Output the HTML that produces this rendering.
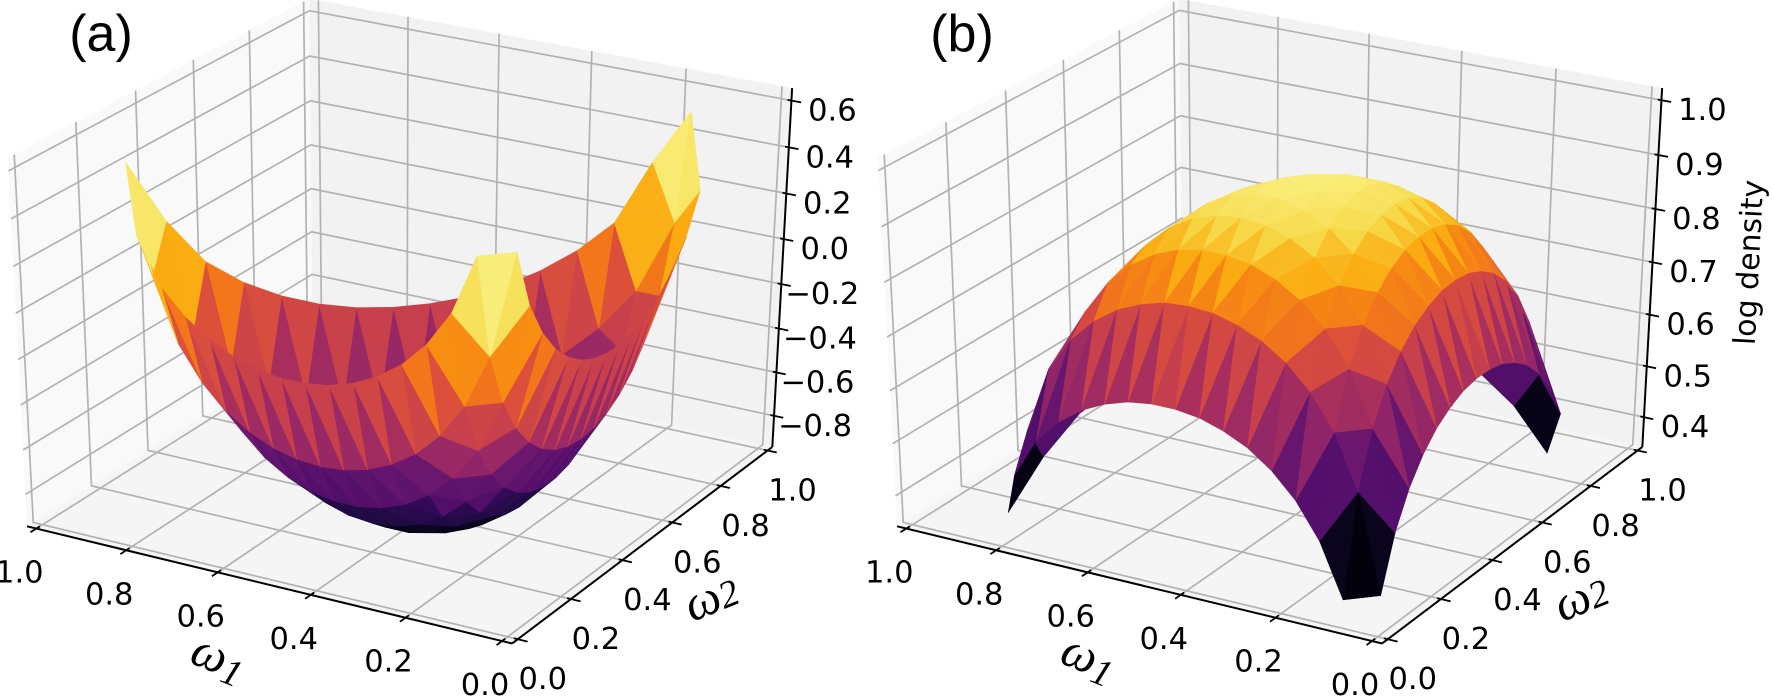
<!DOCTYPE html>
<html><head><meta charset="utf-8"><title>Log density surfaces</title>
<style>html,body{margin:0;padding:0;background:#fff}svg{display:block}text{fill:#000}</style></head>
<body>
<svg id="fig" width="1772" height="697" viewBox="0 0 1772 697" xmlns="http://www.w3.org/2000/svg"></svg>
<script>
const omegaStep = 0.05;
const xTicks = [0, 0.2, 0.4, 0.6, 0.8, 1.0];
const yTicks = [0, 0.2, 0.4, 0.6, 0.8, 1.0];
const zTicksA = [-0.8, -0.6, -0.4, -0.2, 0, 0.2, 0.4, 0.6];
const zTicksB = [0.4, 0.5, 0.6, 0.7, 0.8, 0.9, 1.0];
const zLimitsA = [-0.945, 0.653];
const zLimitsB = [0.341, 1.022];
const logDensityA = [
[null,.58,.325,.173,.068,-.005,-.056,-.088,-.102,-.102,-.088,-.056,-.005,.068,.173,.38,null],
[.58,.129,-.102,-.251,-.353,-.422,-.468,-.494,-.502,-.494,-.468,-.422,-.353,-.251,-.102,.17,.62],
[.325,-.102,-.332,-.477,-.574,-.639,-.679,-.698,-.698,-.679,-.639,-.574,-.477,-.332,-.102,.36],
[.173,-.251,-.477,-.619,-.711,-.770,-.803,-.814,-.803,-.770,-.711,-.619,-.477,-.251,.173],
[.068,-.353,-.574,-.711,-.798,-.850,-.875,-.875,-.850,-.798,-.711,-.574,-.353,.068],
[-.005,-.422,-.639,-.770,-.850,-.894,-.908,-.894,-.850,-.770,-.639,-.422,-.005],
[-.056,-.468,-.679,-.803,-.875,-.908,-.908,-.875,-.803,-.679,-.468,-.056],
[-.088,-.494,-.698,-.814,-.875,-.894,-.875,-.814,-.698,-.494,-.088],
[-.102,-.502,-.698,-.803,-.850,-.850,-.803,-.698,-.502,-.102],
[-.102,-.494,-.679,-.770,-.798,-.770,-.679,-.494,-.102],
[-.088,-.468,-.639,-.711,-.711,-.639,-.468,-.088],
[-.056,-.422,-.574,-.619,-.574,-.422,-.056],
[-.005,-.353,-.477,-.477,-.353,-.005],
[.068,-.251,-.332,-.251,.068],
[.173,-.102,-.102,.173],
[.34,.18,.42],
[null,.62]
];
const logDensityB = [
[null,.370,.470,.535,.580,.612,.633,.647,.653,.653,.647,.633,.612,.580,.535,.46,null],
[.370,.554,.653,.717,.760,.790,.809,.821,.824,.821,.809,.790,.760,.717,.653,.53,.36],
[.470,.653,.751,.813,.855,.883,.900,.908,.908,.900,.883,.855,.813,.751,.653,.46],
[.535,.717,.813,.874,.914,.939,.953,.958,.953,.939,.914,.874,.813,.717,.535],
[.580,.760,.855,.914,.951,.973,.984,.984,.973,.951,.914,.855,.760,.580],
[.612,.790,.883,.939,.973,.992,.998,.992,.973,.939,.883,.790,.612],
[.633,.809,.900,.953,.984,.998,.998,.984,.953,.900,.809,.633],
[.647,.821,.908,.958,.984,.992,.984,.958,.908,.821,.647],
[.653,.824,.908,.953,.973,.973,.953,.908,.824,.653],
[.653,.821,.900,.939,.951,.939,.900,.821,.653],
[.647,.809,.883,.914,.914,.883,.809,.647],
[.633,.790,.855,.874,.855,.790,.633],
[.612,.760,.813,.813,.760,.612],
[.580,.717,.751,.717,.580],
[.535,.653,.653,.535],
[.468,.534,.464],
[null,.364]
];
const infernoStops = ['#000004','#160b39','#420a68','#6a176e','#932667','#bc3754','#dd513a','#f37819','#fca50a','#f6d746','#fcffa4'];
const colorBands = [0.03,0.13,0.27,0.42,0.56,0.72,0.84,0.91];

const NS = 'http://www.w3.org/2000/svg';
const fig = document.getElementById('fig');
const M = 1/48;
const LO = -M, HI = 1 + M;
const cameraAnchors = [
  [1,LO,0,34,528],[0,LO,0,501,641],[LO,1,0,768,450],[LO,0.2,0,573,599],
  [LO,HI,0.9668,791,100],[LO,HI,0.0907,773,417],
  [HI,LO,0.9668,8,172],[HI,LO,0.0907,27.5,494],
  [HI,HI,0.9668,310,10],[HI,HI,0.2159,312,275]
];
function solveCamera(anch){
  const n = 11, A = [], b = [];
  for (let i=0;i<n;i++){A.push(new Array(n).fill(0));b.push(0);}
  function add(r,v){for(let i=0;i<n;i++){for(let j=0;j<n;j++)A[i][j]+=r[i]*r[j];b[i]+=r[i]*v;}}
  anch.forEach(p=>{
    const [X,Y,Z,u,v]=p;
    add([X,Y,Z,1,0,0,0,0,-u*X,-u*Y,-u*Z],u);
    add([0,0,0,0,X,Y,Z,1,-v*X,-v*Y,-v*Z],v);
  });
  for(let c=0;c<n;c++){
    let best=c;for(let r=c+1;r<n;r++)if(Math.abs(A[r][c])>Math.abs(A[best][c]))best=r;
    [A[c],A[best]]=[A[best],A[c]];[b[c],b[best]]=[b[best],b[c]];
    for(let r=0;r<n;r++){if(r===c)continue;const f=A[r][c]/A[c][c];
      if(f===0)continue;for(let k=c;k<n;k++)A[r][k]-=f*A[c][k];b[r]-=f*b[c];}
  }
  return b.map((v,i)=>v/A[i][i]);
}
const cam = solveCamera(cameraAnchors);
function project(x,y,n,dx){
  const w = cam[8]*x+cam[9]*y+cam[10]*n+1;
  return [(cam[0]*x+cam[1]*y+cam[2]*n+cam[3])/w+dx,(cam[4]*x+cam[5]*y+cam[6]*n+cam[7])/w];
}
function hex(c){return [1,3,5].map(i=>parseInt(c.substr(i,2),16));}
function inferno(t){
  t=Math.max(0,Math.min(1,t));
  let near=colorBands[0];
  colorBands.forEach(b=>{if(Math.abs(b-t)<Math.abs(near-t))near=b;});
  t=(0.5*t+0.5*near)*(infernoStops.length-1);
  const i=Math.min(infernoStops.length-2,Math.floor(t)),f=t-i;
  const a=hex(infernoStops[i]),b=hex(infernoStops[i+1]);
  return 'rgb('+a.map((v,j)=>Math.round(v+(b[j]-v)*f)).join(',')+')';
}
function el(tag,attrs,parent){
  const e=document.createElementNS(NS,tag);
  for(const k in attrs)e.setAttribute(k,attrs[k]);
  (parent||fig).appendChild(e);
  return e;
}
function pts(list){return list.map(p=>p[0].toFixed(2)+','+p[1].toFixed(2)).join(' ');}
function fmt(v){return (v<0?'\u2212':'')+Math.abs(v).toFixed(1);}

function drawPanel(prefix,dx,zRows,zLim,zTicks,title,titleX,zLabel){
  const nz=z=>(z-zLim[0])/(zLim[1]-zLim[0]);
  const P=(x,y,z)=>project(x,y,nz(z),dx);
  const g=el('g',{});
  
  
  const Z0=zLim[0],Z1=zLim[1];

  const paneX=el('polygon',{points:pts([P(HI,LO,Z0),P(HI,HI,Z0),P(HI,HI,Z1),P(HI,LO,Z1)]),fill:'#f9f9f9'},g);
  
  
  const paneY=el('polygon',{points:pts([P(HI,HI,Z0),P(LO,HI,Z0),P(LO,HI,Z1),P(HI,HI,Z1)]),fill:'#f2f2f2'},g);
  
  
  const paneZ=el('polygon',{points:pts([P(LO,LO,Z0),P(HI,LO,Z0),P(HI,HI,Z0),P(LO,HI,Z0)]),fill:'#f5f5f5'},g);
  
  

  const grid={fill:'none',stroke:'#b2b2b2','stroke-width':1.7};
  xTicks.forEach(t=>{
    const l=el('polyline',Object.assign({points:pts([P(t,LO,Z0),P(t,HI,Z0),P(t,HI,Z1)])},grid),g);
    
    
  });
  yTicks.forEach(t=>{
    const l=el('polyline',Object.assign({points:pts([P(LO,t,Z0),P(HI,t,Z0),P(HI,t,Z1)])},grid),g);
    
    
  });
  zTicks.forEach(t=>{
    const l=el('polyline',Object.assign({points:pts([P(HI,LO,t),P(HI,HI,t),P(LO,HI,t)])},grid),g);
    
    
  });

  // surface: triangles from the simplex grid
  const node=(r,c)=>{
    if(r<0||r>=zRows.length||c<0||c>=zRows[r].length)return null;
    const z=zRows[r][c];
    return z===null?null:{x:(c+1)*omegaStep,y:(r+1)*omegaStep,z:z};
  };
  const tris=[];
  for(let r=0;r<zRows.length;r++){
    for(let c=0;c<zRows[r].length;c++){
      const a=node(r,c),b=node(r,c+1),d=node(r+1,c),e=node(r+1,c+1);
      if(a&&b&&d)tris.push([a,b,d]);
      if(b&&d&&e)tris.push([b,e,d]);
      if(a&&d&&e&&!b)tris.push([a,d,e]);
      if(a&&b&&e&&!d)tris.push([a,b,e]);
    }
  }
  const means=tris.map(t=>(t[0].z+t[1].z+t[2].z)/3);
  const cmin=Math.min.apply(null,means),cmax=Math.max.apply(null,means);
  const order=tris.map((t,i)=>{
    const m=t.reduce((s,p)=>[s[0]+p.x/3,s[1]+p.y/3,s[2]+nz(p.z)/3],[0,0,0]);
    return {i:i,k:-236*m[0]-425*m[1]+174*m[2]};
  }).sort((p,q)=>p.k-q.k);
  const surf=el('g',{},g);
  
  
  order.forEach(o=>{
    const t=tris[o.i];
    const col=inferno((means[o.i]-cmin)/(cmax-cmin));
    const f=el('polygon',{points:pts(t.map(p=>P(p.x,p.y,p.z))),fill:col,stroke:col,'stroke-width':0.6,'stroke-linejoin':'round'},surf);
    
    
  });

  // axes
  const axisStyle={fill:'none',stroke:'#000','stroke-width':2};
  const ax=el('polyline',Object.assign({points:pts([P(HI,LO,Z0),P(LO,LO,Z0)])},axisStyle),g);
  
  
  const ay=el('polyline',Object.assign({points:pts([P(LO,LO,Z0),P(LO,HI,Z0)])},axisStyle),g);
  
  
  const az=el('polyline',Object.assign({points:pts([P(LO,HI,Z0),P(LO,HI,Z1)])},axisStyle),g);
  
  

  const tickStyle={stroke:'#000','stroke-width':1.8};
  const label=(txt,p,ox,oy)=>{
    const t=el('text',{x:(p[0]+ox).toFixed(1),y:(p[1]+oy+11).toFixed(1),'text-anchor':'middle','font-family':'"DejaVu Sans",sans-serif','font-size':30.5},g);
    t.textContent=txt;
    return t;
  };
  xTicks.forEach(t=>{
    const a=P(t,LO+0.012,Z0),b=P(t,LO-0.02,Z0),c=P(t,LO,Z0);
    const l=el('line',Object.assign({x1:a[0],y1:a[1],x2:b[0],y2:b[1]},tickStyle),g);
    
    
    const s=label(t.toFixed(1),c,-17,43);
    
    
  });
  yTicks.forEach(t=>{
    const a=P(LO+0.008,t,Z0),b=P(LO-0.02,t,Z0),c=P(LO,t,Z0);
    const l=el('line',Object.assign({x1:a[0],y1:a[1],x2:b[0],y2:b[1]},tickStyle),g);
    
    
    const s=label(t.toFixed(1),c,25,39);
    
    
  });
  zTicks.forEach(t=>{
    const a=P(LO+0.008,HI,t),b=P(LO-0.02,HI,t),c=P(LO,HI,t);
    const l=el('line',Object.assign({x1:a[0],y1:a[1],x2:b[0],y2:b[1]},tickStyle),g);
    
    
    const s=label(fmt(t),c,41,9);
    
    
  });

  const tl=el('text',{x:titleX,y:51,'text-anchor':'middle','font-family':'"Liberation Sans",sans-serif','font-size':52},g);
  tl.textContent=title;
  
  

  const w1=el('text',{transform:'translate('+(213+dx)+',672) rotate(22)','text-anchor':'middle','font-family':'"Liberation Serif",serif','font-style':'italic','font-size':50},g);
  w1.textContent='\u03c9';
  const s1=el('tspan',{'font-size':38,dy:6},w1);
  s1.textContent='1';
  
  

  const w2=el('text',{transform:'translate('+(720+dx-3)+',612) rotate(-22)','text-anchor':'middle','font-family':'"Liberation Serif",serif','font-style':'italic','font-size':50},g);
  w2.textContent='\u03c9';
  const s2=el('tspan',{'font-size':38,dy:0},w2);
  s2.textContent='2';
  
  

  if(zLabel){
    const zl=el('text',{transform:'translate(1759,263) rotate(-87)','text-anchor':'middle','font-family':'"DejaVu Sans",sans-serif','font-size':30},g);
    zl.textContent=zLabel;
    
    
  }
}
drawPanel('panel-a',0,logDensityA,zLimitsA,zTicksA,'(a)',101,null);
drawPanel('panel-b',870,logDensityB,zLimitsB,zTicksB,'(b)',962,'log density');
</script>
</body></html>
